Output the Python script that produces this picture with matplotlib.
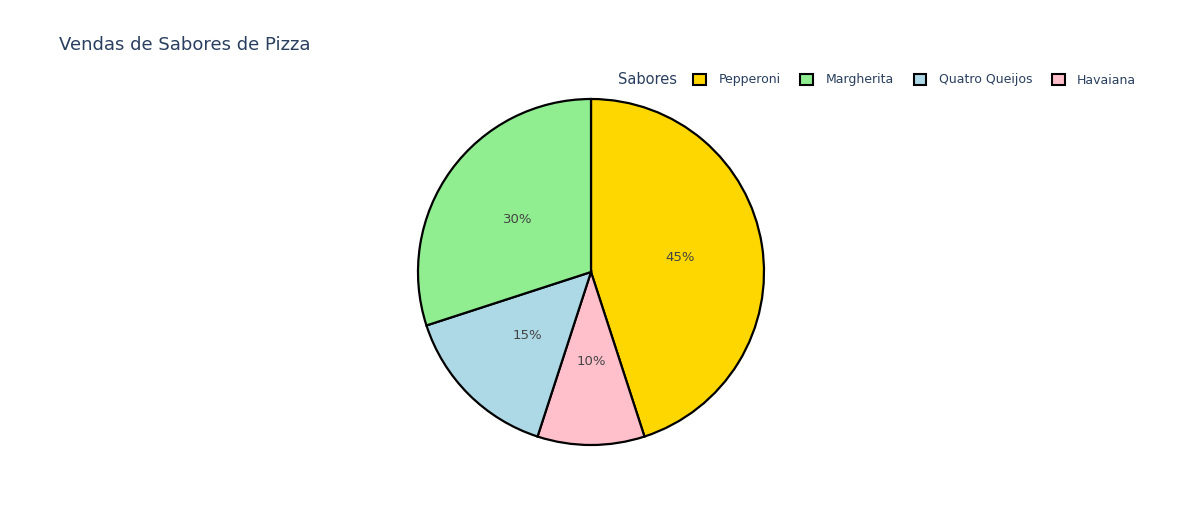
import matplotlib
matplotlib.use("Agg")
import matplotlib.pyplot as plt
from matplotlib.patches import Patch

flavors = ["Pepperoni", "Margherita", "Quatro Queijos", "Havaiana"]
sales = [45, 30, 15, 10]
colors = ["#FFD700", "#90EE90", "#ADD8E6", "#FFC0CB"]
draw_order = [0, 3, 2, 1]

fig = plt.figure(figsize=(11.83, 5.25), dpi=100)
W, H = 1183, 525
cx, cy, r = 591, 272, 173
ax = fig.add_axes([(cx - r) / W, 1 - (cy + r) / H, 2 * r / W, 2 * r / H])
ax.pie([sales[i] for i in draw_order], colors=[colors[i] for i in draw_order],
       startangle=90, counterclock=False, autopct="%d%%", pctdistance=0.52,
       wedgeprops=dict(edgecolor="black", linewidth=1.6),
       textprops=dict(color="#444444", fontsize=9.5, family="DejaVu Sans"))
ax.set_aspect("equal")
ax.set_xlim(-1.0, 1.0); ax.set_ylim(-1.0, 1.0)

fig.text(59 / W, 1 - 45 / H, "Vendas de Sabores de Pizza", fontsize=13,
         color="#2a3f5f", va="center")
fig.text(618 / W, 1 - 79 / H, "Sabores", fontsize=10.5, color="#2a3f5f", va="center")
handles = [Patch(facecolor=c, edgecolor="black", linewidth=1.5) for c in colors]
fig.legend(handles, flavors, loc="center left", bbox_to_anchor=(682 / W, 1 - 80 / H),
           ncol=4, frameon=False, fontsize=9, labelcolor="#2a3f5f",
           handlelength=1.0, handleheight=1.0, columnspacing=1.6, handletextpad=1.0)
fig.savefig("out.png", dpi=100)
